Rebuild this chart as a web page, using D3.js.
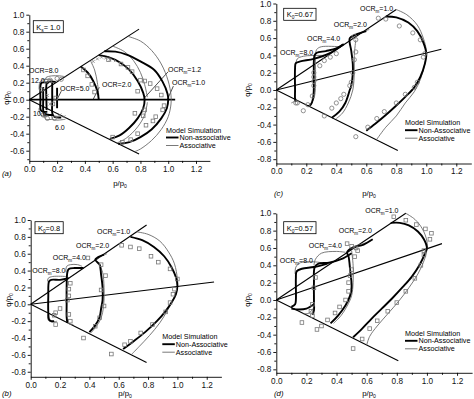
<!DOCTYPE html>
<html><head><meta charset="utf-8">
<script src="https://cdn.jsdelivr.net/npm/d3@7"></script>
<style>body{margin:0;background:#fff}</style>
</head><body>
<svg id="chart" width="474" height="399"></svg>
<script>
// ================= DATA =================
const xTicks = [0, 0.2, 0.4, 0.6, 0.8, 1.0, 1.2];
const xMinor = [0.1, 0.3, 0.5, 0.7, 0.9, 1.1];
const yTicksA = [-0.6, -0.4, -0.2, 0, 0.2, 0.4, 0.6, 0.8, 1.0];
const yTicksB = [-0.8, -0.6, -0.4, -0.2, 0, 0.2, 0.4, 0.6, 0.8, 1.0];
const yMinorA = [-0.7, -0.5, -0.3, -0.1, 0.1, 0.3, 0.5, 0.7, 0.9];
const yMinorB = [-0.7, -0.5, -0.3, -0.1, 0.1, 0.3, 0.5, 0.7, 0.9];

// ---- panel (a) K=1.0 ----
const aRefLines = [[[0,0],[0.79,0.83]], [[0,0],[0.79,-0.64]]];
const aAxisLine = [[0,0],[1.05,0]];
const aNonAssoc = [
  [[0.54,0.57],[0.62,0.565],[0.7,0.53],[0.8,0.45],[0.9,0.35],[0.96,0.21],[0.995,0.07],[1.0,0.0],[0.99,-0.1],[0.95,-0.22],[0.88,-0.35],[0.8,-0.44],[0.72,-0.5],[0.64,-0.52]],
  [[0.5,0.525],[0.57,0.5],[0.65,0.44],[0.72,0.35],[0.78,0.22],[0.82,0.08],[0.83,0.0],[0.82,-0.1],[0.78,-0.22],[0.72,-0.33],[0.65,-0.42],[0.58,-0.46]],
  [[0.37,0.39],[0.42,0.32],[0.46,0.22],[0.49,0.1],[0.5,0.0]],
  [[0.14,0.2],[0.09,0.2],[0.082,0.18],[0.08,0.0],[0.082,-0.12],[0.095,-0.14],[0.13,-0.14]],
  [[0.1,0.15],[0.1,0.0],[0.102,-0.14],[0.115,-0.17],[0.17,-0.18]],
  [[0.19,0.21],[0.135,0.21],[0.125,0.19],[0.123,0.0],[0.125,-0.12]],
  [[0.165,0.2],[0.165,0.0],[0.167,-0.17],[0.18,-0.2],[0.23,-0.21]],
  [[0.2,0.14],[0.2,0.0],[0.2,-0.1]]
];
const aAssoc = [
  [[0.71,0.745],[0.8,0.69],[0.88,0.58],[0.95,0.42],[1.0,0.22],[1.02,0.05],[1.02,-0.05],[1.0,-0.2],[0.95,-0.35],[0.88,-0.48],[0.8,-0.58],[0.76,-0.61]],
  [[0.6,0.63],[0.68,0.57],[0.75,0.46],[0.8,0.32],[0.83,0.18],[0.85,0.03]],
  [[0.85,-0.03],[0.83,-0.18],[0.78,-0.32],[0.7,-0.45],[0.63,-0.51]],
  [[0.44,0.46],[0.47,0.35],[0.49,0.2],[0.5,0.05]],
  [[0.07,0.12],[0.075,0.2],[0.09,0.23],[0.14,0.24],[0.17,0.23]],
  [[0.11,0.22],[0.12,0.26],[0.16,0.28],[0.22,0.28],[0.26,0.27]],
  [[0.07,-0.1],[0.075,-0.16],[0.09,-0.19],[0.13,-0.2]],
  [[0.1,-0.14],[0.105,-0.2],[0.12,-0.23],[0.17,-0.23]],
  [[0.16,-0.19],[0.17,-0.23],[0.2,-0.24],[0.26,-0.23]]
];
const aSquares = [[0.39,0.35],[0.42,0.28],[0.45,0.18],[0.47,0.09],[0.57,0.47],[0.66,0.42],[0.71,0.38],[0.74,0.33],[0.8,0.23],[0.83,0.22],[0.87,0.19],[0.92,0.13],[0.95,0.055],[0.97,-0.07],[0.96,-0.12],[0.91,-0.2],[0.89,-0.25],[0.83,-0.12],[0.82,-0.19],[0.84,-0.3],[0.78,-0.4],[0.73,-0.47],[0.67,-0.5],[0.6,-0.44],[0.76,-0.16],[0.78,0.1],[0.19,0.02],[0.17,-0.05]];
const aCrosses = [[0.46,0.45],[0.49,0.48],[0.52,0.5],[0.55,0.49],[0.58,0.47],[0.62,0.46],[0.2,-0.2],[0.22,-0.18],[0.25,-0.2],[0.13,0.05],[0.15,-0.05]];
const aCircles = [[0.12,0.22],[0.15,0.23],[0.2,0.25],[0.23,0.24],[0.1,-0.18],[0.13,-0.22],[0.18,-0.22],[0.09,0.12]];
const aLeaders = [[[0.504,0.146],[0.46,0.005]], [[1.0,0.33],[0.826,0.016]], [[1.037,0.16],[0.996,0.008]], [[0.23,0.1],[0.205,0.02]]];

// ---- panel (b) K=0.8 ----
const bRefLines = [[[0,0],[0.79,0.94]], [[0,0],[0.79,-0.69]], [[0,0],[1.25,0.265]]];
const bNonAssoc = [
  [[0.68,0.8],[0.76,0.76],[0.84,0.68],[0.91,0.57],[0.96,0.44],[0.99,0.32],[1.0,0.22],[0.99,0.12],[0.96,0.02],[0.92,-0.08],[0.86,-0.2],[0.78,-0.33],[0.7,-0.44],[0.63,-0.53]],
  [[0.5,0.59],[0.46,0.56],[0.44,0.53],[0.47,0.47],[0.48,0.35],[0.49,0.2],[0.49,0.05],[0.48,-0.05],[0.47,-0.15],[0.44,-0.25],[0.4,-0.33]],
  [[0.36,0.43],[0.3,0.43],[0.26,0.42],[0.25,0.38],[0.245,0.2],[0.245,0.0],[0.245,-0.15],[0.25,-0.22]],
  [[0.26,0.31],[0.2,0.29],[0.14,0.29],[0.125,0.27],[0.12,0.1],[0.12,-0.1],[0.125,-0.18],[0.14,-0.2],[0.16,-0.2]]
];
const bAssoc = [
  [[0.72,0.86],[0.8,0.83],[0.88,0.75],[0.94,0.62],[0.98,0.48],[1.0,0.3],[1.0,0.2],[0.97,0.05],[0.93,-0.08],[0.88,-0.22],[0.81,-0.37],[0.74,-0.5],[0.69,-0.59]],
  [[0.45,0.53],[0.48,0.57],[0.52,0.6]],
  [[0.46,0.5],[0.49,0.38],[0.5,0.2],[0.5,0.05],[0.49,-0.1],[0.47,-0.2],[0.43,-0.3],[0.41,-0.34]],
  [[0.24,0.38],[0.245,0.45],[0.27,0.47],[0.32,0.47],[0.35,0.45]],
  [[0.25,-0.18],[0.26,-0.23],[0.29,-0.24]],
  [[0.115,0.27],[0.12,0.31],[0.15,0.33],[0.24,0.33]],
  [[0.115,-0.12],[0.12,-0.19],[0.15,-0.21],[0.18,-0.2]]
];
const bSquares = [[0.62,0.7],[0.68,0.68],[0.74,0.66],[0.82,0.57],[0.87,0.5],[0.95,0.42],[1.0,0.3],[0.98,0.18],[0.97,0.12],[0.95,0.02],[0.92,-0.09],[0.83,-0.24],[0.75,-0.34],[0.68,-0.44],[0.64,-0.48],[0.55,-0.59],[0.36,-0.4],[0.48,0.47],[0.51,0.34],[0.48,0.17],[0.5,-0.02],[0.47,-0.16],[0.44,-0.26],[0.39,0.55],[0.27,0.25],[0.26,0.18],[0.26,0.1],[0.25,0.05],[0.26,-0.12],[0.27,-0.2],[0.2,-0.05],[0.17,-0.1],[0.16,-0.13],[0.17,-0.24]];

// ---- panel (c) K=0.67 ----
const cRefLines = [[[0,0],[0.8,0.93]], [[0,0],[0.81,-0.7]], [[0,0],[1.1,0.47]]];
const cNonAssoc = [
  [[0.73,0.85],[0.8,0.84],[0.88,0.78],[0.94,0.68],[0.98,0.55],[1.0,0.42],[0.99,0.3],[0.96,0.15],[0.92,0.03],[0.86,-0.08],[0.8,-0.18],[0.73,-0.29],[0.66,-0.39],[0.6,-0.47]],
  [[0.6,0.68],[0.53,0.64],[0.49,0.6],[0.5,0.45],[0.51,0.3],[0.51,0.19],[0.5,0.05],[0.49,0.0],[0.46,-0.15],[0.42,-0.25],[0.37,-0.32]],
  [[0.45,0.53],[0.4,0.48],[0.33,0.45],[0.27,0.43],[0.255,0.4],[0.25,0.2],[0.25,0.0],[0.245,-0.1],[0.23,-0.17],[0.21,-0.19]],
  [[0.44,0.52],[0.35,0.42],[0.25,0.36],[0.16,0.33],[0.13,0.31],[0.125,0.25],[0.125,0.0],[0.125,-0.1],[0.13,-0.14]]
];
const cAssoc = [
  [[0.8,0.93],[0.87,0.87],[0.94,0.75],[0.98,0.6],[1.0,0.45],[0.99,0.3],[0.96,0.12],[0.92,-0.02],[0.86,-0.15],[0.8,-0.3],[0.73,-0.43],[0.67,-0.57]],
  [[0.5,0.6],[0.56,0.66],[0.62,0.7]],
  [[0.53,0.58],[0.52,0.4],[0.52,0.2],[0.51,0.0],[0.48,-0.15],[0.44,-0.27],[0.4,-0.33]],
  [[0.26,0.4],[0.27,0.47],[0.3,0.5],[0.42,0.5]],
  [[0.26,0.4],[0.26,0.0],[0.25,-0.1],[0.22,-0.19]],
  [[0.13,0.3],[0.14,0.36],[0.18,0.39],[0.3,0.4],[0.35,0.4]],
  [[0.13,-0.1],[0.12,-0.13],[0.1,-0.15]]
];
const cCircles = [[0.68,0.83],[0.73,0.82],[0.82,0.74],[0.91,0.66],[0.96,0.58],[0.99,0.42],[0.98,0.38],[0.94,0.09],[0.92,0.03],[0.86,-0.05],[0.8,-0.15],[0.72,-0.25],[0.67,-0.33],[0.61,-0.43],[0.53,-0.54],[0.52,0.62],[0.53,0.58],[0.53,0.44],[0.52,0.35],[0.51,0.2],[0.5,0.09],[0.49,0.05],[0.45,-0.05],[0.43,-0.1],[0.4,-0.15],[0.37,-0.21],[0.32,-0.3],[0.4,0.42],[0.36,0.38],[0.32,0.34],[0.29,0.28],[0.25,0.2],[0.25,0.15],[0.25,0.1],[0.25,0.05],[0.24,-0.07],[0.21,-0.17],[0.13,-0.15],[0.14,-0.15],[0.18,-0.24]];

// ---- panel (d) K=0.57 ----
const dRefLines = [[[0,0],[0.86,1.0]], [[0,0],[0.81,-0.7]], [[0,0],[1.1,0.65]]];
const dNonAssoc = [
  [[0.76,0.89],[0.82,0.89],[0.88,0.86],[0.94,0.79],[0.98,0.7],[1.0,0.6],[0.99,0.55],[0.95,0.4],[0.9,0.27],[0.84,0.15],[0.77,0.02],[0.7,-0.1],[0.63,-0.22],[0.57,-0.33],[0.51,-0.43]],
  [[0.64,0.7],[0.58,0.64],[0.5,0.6],[0.47,0.55],[0.48,0.5],[0.49,0.35],[0.5,0.15],[0.49,0.05],[0.46,-0.06],[0.41,-0.18],[0.36,-0.27]],
  [[0.5,0.54],[0.43,0.47],[0.35,0.43],[0.28,0.42],[0.255,0.38],[0.25,0.2],[0.25,0.0],[0.25,-0.12],[0.24,-0.17]],
  [[0.34,0.42],[0.25,0.38],[0.17,0.36],[0.135,0.33],[0.13,0.25],[0.13,0.0],[0.125,-0.05],[0.1,-0.08]],
  [[0.1,-0.1],[0.15,-0.11],[0.2,-0.1],[0.25,-0.05]]
];
const dAssoc = [
  [[0.86,1.0],[0.92,0.93],[0.97,0.82],[1.0,0.68],[1.0,0.58],[0.98,0.45],[0.94,0.3],[0.88,0.14],[0.81,-0.02],[0.74,-0.16],[0.67,-0.3],[0.62,-0.42],[0.6,-0.52]],
  [[0.48,0.58],[0.52,0.62],[0.6,0.66]],
  [[0.5,0.57],[0.51,0.4],[0.51,0.2],[0.5,0.05],[0.47,-0.07],[0.43,-0.18],[0.38,-0.27]],
  [[0.25,0.4],[0.26,0.47],[0.3,0.54],[0.4,0.56],[0.46,0.55]],
  [[0.24,-0.1],[0.22,-0.15],[0.18,-0.16]],
  [[0.125,0.3],[0.13,0.38],[0.16,0.43],[0.25,0.44],[0.3,0.43]]
];
const dSquares = [[0.78,0.96],[0.86,0.92],[0.93,0.87],[0.99,0.82],[1.03,0.77],[1.02,0.7],[0.98,0.57],[0.98,0.52],[0.96,0.4],[0.92,0.25],[0.86,0.1],[0.8,-0.03],[0.74,-0.13],[0.67,-0.24],[0.62,-0.33],[0.57,-0.45],[0.51,-0.56],[0.47,0.65],[0.5,0.62],[0.53,0.6],[0.54,0.57],[0.52,0.5],[0.5,0.35],[0.49,0.28],[0.48,0.2],[0.48,0.1],[0.46,0.0],[0.42,-0.08],[0.39,-0.15],[0.34,-0.23],[0.3,-0.3],[0.27,-0.34],[0.26,0.26],[0.25,0.14],[0.24,-0.05],[0.23,-0.13],[0.24,-0.18],[0.17,-0.26]];

// ================= LAYOUT / DRAW =================
const FONT = "'Liberation Sans', Arial, sans-serif";
const svg = d3.select("#chart");
const fmt = v => (Math.abs(v) < 1e-9 ? 0 : v).toFixed(1);

function subText(g, x, y, parts, size, anchor, rotate) {
  const t = g.append("text").attr("x", x).attr("y", y)
    .attr("font-family", FONT).attr("font-size", size).attr("fill", "#000")
    .attr("text-anchor", anchor || "start");
  if (rotate) t.attr("transform", `rotate(-90,${x},${y})`);
  let shift = 0;
  parts.forEach(p => {
    const sub = p[1];
    const dy = sub ? size * 0.3 - shift : -shift;
    shift = sub ? size * 0.3 : 0;
    t.append("tspan").attr("dy", dy).attr("font-size", sub ? size * 0.65 : size).text(p[0]);
  });
  return t;
}

const panels = [
  { box: {x0: 29.3, x1: 209.9, yt: 14.7, yb: 160.9}, yMin: -0.72, yT: yTicksA, yM: yMinorA,
    ref: aRefLines, thickStraight: [aAxisLine], non: aNonAssoc, asc: aAssoc,
    squares: aSquares, circles: aCircles, crosses: aCrosses, leaders: aLeaders,
    kText: [["K",false],["s",true],["= 1.0",false]], kPos: [33.3, 20.7],
    labels: [
      {p:[["OCR=8.0",false]], x:29, y:72.5}, {p:[["12.0",false]], x:31, y:83},
      {p:[["OCR=5.0",false]], x:60, y:90.5}, {p:[["OCR=2.0",false]], x:102, y:86.5},
      {p:[["OCR",false],["m",true],["=1.2",false]], x:168, y:71.5},
      {p:[["OCR",false],["m",true],["=1.0",false]], x:172, y:85},
      {p:[["10.0",false]], x:33, y:115.5}, {p:[["6.0",false]], x:55, y:129.5}],
    legend: {x: 166, y: 130, nonTxt: "Non-associative"}, letter: {t:"(a)", x:2, y:176},
    xlab: {x: 120, y: 186}, ylab: {x: 9, y: 98} },
  { box: {x0: 276.3, x1: 471.3, yt: 3.5, yb: 163.5}, yMin: -0.85, yT: yTicksB, yM: yMinorB,
    ref: cRefLines, thickStraight: [], non: cNonAssoc, asc: cAssoc,
    squares: [], circles: cCircles, crosses: [], leaders: [],
    kText: [["K",false],["0",true],["=0.67",false]], kPos: [283.7, 8.3],
    labels: [
      {p:[["OCR",false],["m",true],["=1.0",false]], x:360, y:10.5},
      {p:[["OCR",false],["m",true],["=2.0",false]], x:333.7, y:26.5},
      {p:[["OCR",false],["m",true],["=4.0",false]], x:307, y:40.5},
      {p:[["OCR",false],["m",true],["=8.0",false]], x:280, y:55}],
    legend: {x: 405, y: 122.7, nonTxt: "Non-Associative"}, letter: {t:"(c)", x:274, y:196},
    xlab: {x: 369, y: 196}, ylab: {x: 250, y: 90} },
  { box: {x0: 30.7, x1: 221.4, yt: 220, yb: 376.8}, yMin: -0.86, yT: yTicksB, yM: yMinorB,
    ref: bRefLines, thickStraight: [], non: bNonAssoc, asc: bAssoc,
    squares: bSquares, circles: [], crosses: [], leaders: [],
    kText: [["K",false],["0",true],["=0.8",false]], kPos: [35, 221.7],
    labels: [
      {p:[["OCR",false],["m",true],["=1.0",false]], x:97, y:234},
      {p:[["OCR",false],["m",true],["=2.0",false]], x:76, y:247.5},
      {p:[["OCR",false],["m",true],["=4.0",false]], x:52.7, y:259.5},
      {p:[["OCR",false],["m",true],["=8.0",false]], x:32.3, y:272.5}],
    legend: {x: 162.3, y: 336.7, nonTxt: "Non-Associative"}, letter: {t:"(b)", x:2, y:396},
    xlab: {x: 125, y: 396}, ylab: {x: 11, y: 300} },
  { box: {x0: 276.3, x1: 472.1, yt: 213.3, yb: 372.8}, yMin: -0.84, yT: yTicksB, yM: yMinorB,
    ref: dRefLines, thickStraight: [], non: dNonAssoc, asc: dAssoc,
    squares: dSquares, circles: [], crosses: [], leaders: [],
    kText: [["K",false],["0",true],["=0.57",false]], kPos: [283.7, 221.7],
    labels: [
      {p:[["OCR",false],["m",true],["=1.0",false]], x:365.3, y:212.5},
      {p:[["OCR",false],["m",true],["=2.0",false]], x:338.7, y:233},
      {p:[["OCR",false],["m",true],["=4.0",false]], x:308.7, y:247.5},
      {p:[["OCR",false],["m",true],["=8.0",false]], x:279.7, y:263}],
    legend: {x: 405, y: 333.3, nonTxt: "Non-Associative"}, letter: {t:"(d)", x:274, y:396},
    xlab: {x: 369, y: 396}, ylab: {x: 250, y: 300} }
];

panels.forEach(P => {
  const g = svg.append("g");
  const x = d3.scaleLinear().domain([0, 1.3]).range([P.box.x0, P.box.x1]);
  const y = d3.scaleLinear().domain([P.yMin, 1.0]).range([P.box.yb, P.box.yt]);
  const curve = d3.line().x(d => x(d[0])).y(d => y(d[1])).curve(d3.curveCatmullRom.alpha(0.5));
  const straight = d3.line().x(d => x(d[0])).y(d => y(d[1]));

  // axes
  g.append("g").attr("transform", `translate(0,${P.box.yb})`)
    .call(d3.axisBottom(x).tickValues(xTicks).tickFormat(fmt).tickSize(3).tickSizeOuter(0).tickPadding(2));
  g.append("g").attr("transform", `translate(0,${P.box.yb})`)
    .call(d3.axisBottom(x).tickValues(xMinor).tickFormat("").tickSize(2).tickSizeOuter(0))
    .select(".domain").remove();
  g.append("g").attr("transform", `translate(${P.box.x0},0)`)
    .call(d3.axisLeft(y).tickValues(P.yT).tickFormat(fmt).tickSize(3).tickSizeOuter(0).tickPadding(2));
  g.append("g").attr("transform", `translate(${P.box.x0},0)`)
    .call(d3.axisLeft(y).tickValues(P.yM).tickFormat("").tickSize(2).tickSizeOuter(0))
    .select(".domain").remove();
  g.selectAll(".tick text").attr("font-family", FONT).attr("font-size", 8.2).attr("fill", "#111");
  g.selectAll(".domain, .tick line").attr("stroke", "#000").attr("stroke-width", 0.9);

  // reference lines (CSL / K0)
  P.ref.forEach(l => g.append("path").attr("d", straight(l)).attr("fill", "none")
    .attr("stroke", "#000").attr("stroke-width", 1.1));
  P.thickStraight.forEach(l => g.append("path").attr("d", straight(l)).attr("fill", "none")
    .attr("stroke", "#000").attr("stroke-width", 1.8));
  P.leaders.forEach(l => g.append("path").attr("d", straight(l)).attr("fill", "none")
    .attr("stroke", "#000").attr("stroke-width", 0.7));

  // associative (thin gray)
  P.asc.forEach(c => g.append("path").attr("d", curve(c)).attr("fill", "none")
    .attr("stroke", "#6a6a6a").attr("stroke-width", 0.9));
  // non-associative (thick black)
  P.non.forEach(c => g.append("path").attr("d", curve(c)).attr("fill", "none")
    .attr("stroke", "#000").attr("stroke-width", 1.9).attr("stroke-linejoin", "round"));

  // experimental points
  const s = 3.6;
  g.selectAll(null).data(P.squares).enter().append("rect")
    .attr("x", d => x(d[0]) - s / 2).attr("y", d => y(d[1]) - s / 2)
    .attr("width", s).attr("height", s).attr("fill", "none").attr("stroke", "#777").attr("stroke-width", 0.8);
  g.selectAll(null).data(P.circles).enter().append("circle")
    .attr("cx", d => x(d[0])).attr("cy", d => y(d[1])).attr("r", 2.1)
    .attr("fill", "none").attr("stroke", "#777").attr("stroke-width", 0.8);
  g.selectAll(null).data(P.crosses).enter().append("path")
    .attr("d", d => `M${x(d[0])-1.5},${y(d[1])-1.5}L${x(d[0])+1.5},${y(d[1])+1.5}M${x(d[0])-1.5},${y(d[1])+1.5}L${x(d[0])+1.5},${y(d[1])-1.5}`)
    .attr("stroke", "#777").attr("stroke-width", 0.7);

  // OCR labels
  P.labels.forEach(L => subText(g, L.x, L.y, L.p, 7));

  // K box
  const kt = subText(g, P.kPos[0] + 3, P.kPos[1] + 8.8, P.kText, 7.4);
  const bb = kt.node().getBBox();
  g.insert("rect", () => kt.node()).attr("x", P.kPos[0]).attr("y", P.kPos[1])
    .attr("width", bb.width + 6).attr("height", 12).attr("fill", "#fff")
    .attr("stroke", "#000").attr("stroke-width", 0.8);

  // legend
  const Lg = P.legend;
  g.append("text").attr("x", Lg.x).attr("y", Lg.y + 2.5).attr("font-family", FONT)
    .attr("font-size", 7.2).text("Model Simulation");
  g.append("line").attr("x1", Lg.x).attr("x2", Lg.x + 12.5).attr("y1", Lg.y + 7.5).attr("y2", Lg.y + 7.5)
    .attr("stroke", "#000").attr("stroke-width", 1.9);
  g.append("text").attr("x", Lg.x + 13.5).attr("y", Lg.y + 10).attr("font-family", FONT)
    .attr("font-size", 7.2).text(Lg.nonTxt);
  g.append("line").attr("x1", Lg.x).attr("x2", Lg.x + 12.5).attr("y1", Lg.y + 15.5).attr("y2", Lg.y + 15.5)
    .attr("stroke", "#6a6a6a").attr("stroke-width", 0.9);
  g.append("text").attr("x", Lg.x + 13.5).attr("y", Lg.y + 18).attr("font-family", FONT)
    .attr("font-size", 7.2).text("Associative");

  // axis titles and panel letter
  subText(g, P.xlab.x, P.xlab.y, [["p/p",false],["0",true]], 7.8, "middle");
  subText(g, P.ylab.x, P.ylab.y, [["q/p",false],["0",true]], 7.8, "middle", true);
  g.append("text").attr("x", P.letter.x).attr("y", P.letter.y).attr("font-family", FONT)
    .attr("font-size", 7.8).attr("font-style", "italic").text(P.letter.t);
});
</script>
</body></html>
